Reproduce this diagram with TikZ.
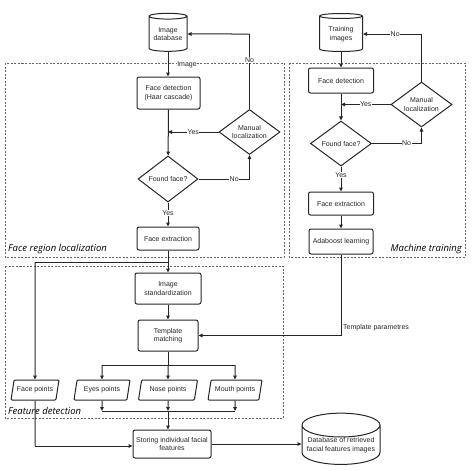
\documentclass[tikz,border=0pt]{standalone}
\usepackage{fontspec}
\setmainfont{Liberation Sans}
\newfontfamily\labelfont{Open Sans}
\usetikzlibrary{shapes.geometric,arrows.meta,calc}
\tikzset{
  every node/.style={font=\fontsize{7}{8.5}\selectfont, align=center, text=black!85},
  box/.style={draw=black!85, line width=1pt, rounded corners=2pt, inner sep=0pt},
  dbase/.style={draw=black!85, line width=1pt, cylinder, shape border rotate=90, aspect=0.2, inner sep=0pt},
  decis/.style={draw=black!85, line width=1pt, diamond, inner sep=0pt, aspect=1.35},
  para/.style={draw=black!85, line width=1pt, trapezium, trapezium left angle=70, trapezium right angle=110, trapezium stretches body, inner sep=1pt, rounded corners=1pt},
  frame/.style={draw=black!60, dashed, dash pattern=on 2pt off 1.5pt, line width=0.6pt},
  conn/.style={draw=black!85, line width=1pt, -{Triangle[length=4pt,width=3.6pt]}},
  line/.style={draw=black!85, line width=1pt},
  lbl/.style={fill=white, inner sep=0.5pt},
  title/.style={font=\labelfont\itshape\fontsize{9.5}{10}\selectfont, inner sep=0pt, text=black}
}
\begin{document}
\begin{tikzpicture}[x=1pt,y=-1pt]
\useasboundingbox (0,0) rectangle (474,471);
% frames
\draw[frame] (5,63) rectangle (284,257);
\draw[frame] (289,63) rectangle (465,257);
\draw[frame] (5,266) rectangle (283,418);
\node[title, anchor=west] (t1) at (8,249) {Face region localization};
\node[title, anchor=east] (t2) at (462,249) {Machine training};
\node[title, anchor=west] (t3) at (8,411) {Feature detection};

% left column
\node[dbase, minimum width=38pt, minimum height=38pt] (db1) at (168,34) {Image\\database};
\node[box, minimum width=63pt, minimum height=32pt] (fd1) at (168.5,93) {Face detection\\(Haar cascade)};
\node[decis, minimum width=61pt, minimum height=45pt] (ml1) at (249.5,132) {Manual\\localization};
\node[decis, minimum width=60pt, minimum height=46pt] (ff1) at (168,179) {Found face?};
\node[box, minimum width=62pt, minimum height=23pt] (fe1) at (168,238.5) {Face extraction};
\coordinate (j1) at (168,132);
\coordinate (c1) at (249.5,179);
\coordinate (c2) at (249.5,34);

\draw[conn] (db1) -- (db1 |- fd1.north);
\node[lbl] (im) at (187,65) {Image};
\draw[conn] (fd1) -- (ff1);
\draw[conn] (ml1.west) -- node[lbl] (y1) {Yes} (j1);
\draw[line] (ff1.east) -- node[lbl, pos=0.7] (n1) {No} (c1);
\draw[conn] (c1) -- (ml1.south);
\draw[line] (ml1.north) -- node[lbl, pos=0.65] (n2) {No} (c2);
\draw[conn] (c2) -- (db1.east);
\draw[conn] (ff1) -- node[lbl, pos=0.45] (y2) {Yes} (fe1);

% right column
\node[dbase, minimum width=43pt, minimum height=38pt] (db2) at (341,34) {Training\\images};
\node[box, minimum width=65pt, minimum height=25pt] (fd2) at (341,80.5) {Face detection};
\node[decis, minimum width=61pt, minimum height=45pt] (ml2) at (421.5,104.5) {Manual\\localization};
\node[decis, minimum width=61pt, minimum height=45pt] (ff2) at (341,143.5) {Found face?};
\node[box, minimum width=65pt, minimum height=23pt] (fe2) at (341,203.5) {Face extraction};
\node[box, minimum width=64pt, minimum height=25pt] (ab2) at (341,241.5) {Adaboost learning};
\coordinate (j2) at (341,104.5);
\coordinate (c3) at (421.5,143.5);
\coordinate (c4) at (421.5,34);

\draw[conn] (db2) -- (fd2);
\draw[conn] (fd2) -- (ff2);
\draw[conn] (ml2.west) -- node[lbl] (y3) {Yes} (j2);
\draw[line] (ff2.east) -- node[lbl, pos=0.7] (n3) {No} (c3);
\draw[conn] (c3) -- (ml2.south);
\draw[line] (ml2.north) -- (c4);
\draw[conn] (c4) -- node[lbl, pos=0.45] (n4) {No} (db2.east);
\draw[conn] (ff2) -- node[lbl, pos=0.35] (y4) {Yes} (fe2);
\draw[conn] (fe2) -- (ab2);

% feature detection
\node[box, minimum width=66pt, minimum height=31pt] (is1) at (168,288.5) {Image\\standardization};
\node[box, minimum width=60pt, minimum height=31pt] (tm1) at (168,335.5) {Template\\matching};
\node[para, minimum width=48pt, minimum height=20pt] (fp) at (35,390) {Face points};
\node[para, minimum width=56pt, minimum height=20pt] (ep) at (102,390) {Eyes points};
\node[para, minimum width=59pt, minimum height=20pt] (np) at (168,390) {Nose points};
\node[para, minimum width=54pt, minimum height=20pt] (mp) at (235,390) {Mouth points};
\node[box, minimum width=78pt, minimum height=28pt] (st1) at (172,444) {Storing individual facial\\features};
\node[dbase, aspect=0.35, minimum width=78pt, minimum height=46pt] (db3) at (341,445) {Database of retrieved\\facial features images};

\coordinate (b1) at (168,262);
\coordinate (b2) at (35,262);
\coordinate (s1) at (168,365);
\coordinate (s2) at (102,365);
\coordinate (s3) at (235,365);
\coordinate (m1) at (102,411);
\coordinate (m2) at (168,411);
\coordinate (m3) at (235,411);
\coordinate (f1) at (35,446);
\coordinate (tp) at (341,335.5);

\draw[conn] (fe1) -- (is1);
\draw[line] (b1) -- (b2);
\draw[conn] (b2) -- (fp.north);
\draw[conn] (is1) -- (tm1);
\draw[line] (tm1.south) -- (s1);
\draw[line] (s2) -- (s3);
\draw[conn] (s2) -- (ep.north);
\draw[conn] (s1) -- (np.north);
\draw[conn] (s3) -- (mp.north);
\draw[conn] (ep.south) -- (m1);
\draw[conn] (np.south) -- (m2);
\draw[conn] (mp.south) -- (m3);
\draw[line] (m1) -- (m3);
\draw[conn] (m2) -- (m2 |- st1.north);
\draw[line] (fp.south) -- (f1);
\draw[conn] (f1) -- (f1 -| st1.west);
\draw[conn] (st1.east) -- (st1.east -| db3.west);
\draw[line] (ab2.south) -- (tp);
\draw[conn] (tp) -- (tm1.east);
\node[anchor=west, inner sep=0pt] (tpl) at (343,328) {Template parametres};
\end{tikzpicture}
\end{document}
